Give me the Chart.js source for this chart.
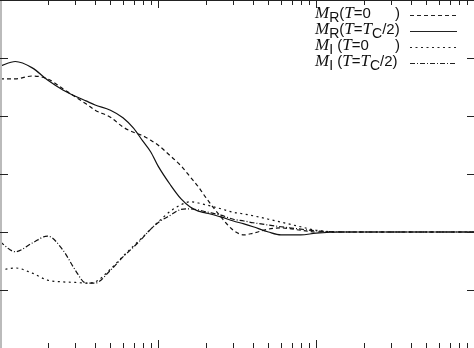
<!DOCTYPE html>
<html>
<head>
<meta charset="utf-8">
<script src="https://cdn.jsdelivr.net/npm/chart.js@4"></script>
<style>
  body { margin: 0; background: #fff; }
  #wrap { position: relative; width: 474px; height: 348px; }
  .row { position: absolute; left: 315px; height: 16px; font: 15px "Liberation Sans", sans-serif; color: #111; white-space: nowrap; line-height: 15px; }
  .row i { font-family: "Liberation Serif", serif; font-size: 17px; }
  .row .sub { position: relative; top: 4px; font-size: 14px; }
  .close { position: absolute; left: 395px; font: 15px "Liberation Sans", sans-serif; color: #111; line-height: 15px; }
</style>
</head>
<body>
<div id="wrap">
  <canvas id="chart"></canvas>
  <div class="row" style="top:5px"><i>M</i><span class="sub">R</span>(<i>T</i>=0</div>
  <div class="close" style="top:5px">)</div>
  <div class="row" style="top:21px"><i>M</i><span class="sub">R</span>(<i>T</i>=<i>T</i><span class="sub">C</span>/2)</div>
  <div class="row" style="top:37px"><i>M</i><span class="sub">I</span> (<i>T</i>=0</div>
  <div class="close" style="top:37px">)</div>
  <div class="row" style="top:53px"><i>M</i><span class="sub">I</span> (<i>T</i>=<i>T</i><span class="sub">C</span>/2)</div>
</div>
<script>
// x values on a log axis (1 .. 1000)
const xValues = [1, 1.25, 1.6, 2, 2.5, 3, 3.5, 4, 5, 6, 7, 8, 9, 10, 12, 14, 16, 18, 20, 25, 30, 35, 40, 50, 60, 80, 100, 150, 200, 400, 1000];

const mR0 = [2.64, 2.64, 2.69, 2.64, 2.47, 2.33, 2.21, 2.10, 1.98, 1.81, 1.72, 1.66, 1.58, 1.50, 1.31, 1.14, 0.95, 0.78, 0.60, 0.26, 0.03, -0.05, -0.02, 0.05, 0.07, 0.03, 0, 0, 0, 0, 0];
const mRTc = [2.86, 2.94, 2.83, 2.62, 2.45, 2.34, 2.26, 2.19, 2.10, 1.97, 1.79, 1.57, 1.38, 1.14, 0.81, 0.57, 0.43, 0.36, 0.33, 0.26, 0.19, 0.14, 0.09, 0.0, -0.05, -0.05, -0.02, 0, 0, 0, 0];
const mI0 = [-0.66, -0.62, -0.71, -0.83, -0.86, -0.87, -0.88, -0.86, -0.64, -0.42, -0.24, -0.09, 0.05, 0.17, 0.36, 0.47, 0.52, 0.50, 0.47, 0.40, 0.34, 0.31, 0.28, 0.22, 0.17, 0.09, 0.03, 0, 0, 0, 0];
const mITc = [-0.17, -0.34, -0.19, -0.07, -0.31, -0.66, -0.88, -0.88, -0.66, -0.43, -0.26, -0.10, 0.05, 0.16, 0.29, 0.39, 0.40, 0.38, 0.35, 0.29, 0.22, 0.19, 0.16, 0.12, 0.09, 0.05, 0.02, 0, 0, 0, 0];

const yTicks = [-1, 0, 1, 2, 3];

const toPoints = (ys) => xValues.map((x, i) => ({ x: x, y: ys[i] }));

const series = [
  { data: mR0, dash: [4, 3] },
  { data: mRTc, dash: [] },
  { data: mI0, dash: [2, 3.5] },
  { data: mITc, dash: [5, 2, 1, 2] },
];

// frame, inward ticks and legend samples, gnuplot style
const framePlugin = {
  id: 'frame',
  afterDraw(chart) {
    const ctx = chart.ctx;
    const xs = chart.scales.x, ys = chart.scales.y;
    const a = chart.chartArea;
    ctx.save();
    ctx.strokeStyle = '#bbb';
    ctx.lineWidth = 2;
    ctx.beginPath();
    ctx.moveTo(1, a.top); ctx.lineTo(1, a.bottom);
    ctx.stroke();
    ctx.strokeStyle = '#222';
    ctx.lineWidth = 1;
    ctx.beginPath();
    ctx.moveTo(a.left, 0.5); ctx.lineTo(a.right, 0.5);
    ctx.stroke();

    ctx.beginPath();
    yTicks.forEach(v => {
      const p = Math.round(ys.getPixelForValue(v)) + 0.5;
      ctx.moveTo(a.left, p); ctx.lineTo(a.left + 8, p);
      ctx.moveTo(a.right, p); ctx.lineTo(a.right - 7, p);
    });
    for (let d = 1; d < 1000; d *= 10) {
      for (let k = 2; k <= 10; k++) {
        const v = d * k;
        if (v >= 1000) continue;
        const p = Math.round(xs.getPixelForValue(v)) + 0.5;
        const len = k === 10 ? 8 : 5;
        ctx.moveTo(p, a.top); ctx.lineTo(p, a.top + len);
        ctx.moveTo(p, a.bottom); ctx.lineTo(p, a.bottom - len);
      }
    }
    ctx.stroke();

    // legend samples
    const rowsY = [15.5, 31.5, 47.5, 63.5];
    series.forEach((s, i) => {
      ctx.setLineDash(s.dash);
      ctx.beginPath();
      ctx.moveTo(410, rowsY[i]); ctx.lineTo(457, rowsY[i]);
      ctx.stroke();
    });
    ctx.restore();
  }
};

new Chart(document.getElementById('chart'), {
  type: 'line',
  data: {
    datasets: series.map(s => ({
      data: toPoints(s.data),
      borderColor: '#111',
      borderWidth: 1.2,
      borderDash: s.dash,
      pointRadius: 0,
      fill: false,
      cubicInterpolationMode: 'monotone',
    })),
  },
  options: {
    responsive: true,
    maintainAspectRatio: false,
    animation: false,
    layout: { padding: 0 },
    plugins: { legend: { display: false }, tooltip: { enabled: false } },
    scales: {
      x: { type: 'logarithmic', min: 1, max: 1000, display: false },
      y: { type: 'linear', min: -2, max: 4, display: false },
    },
  },
  plugins: [framePlugin],
});
</script>
</body>
</html>
